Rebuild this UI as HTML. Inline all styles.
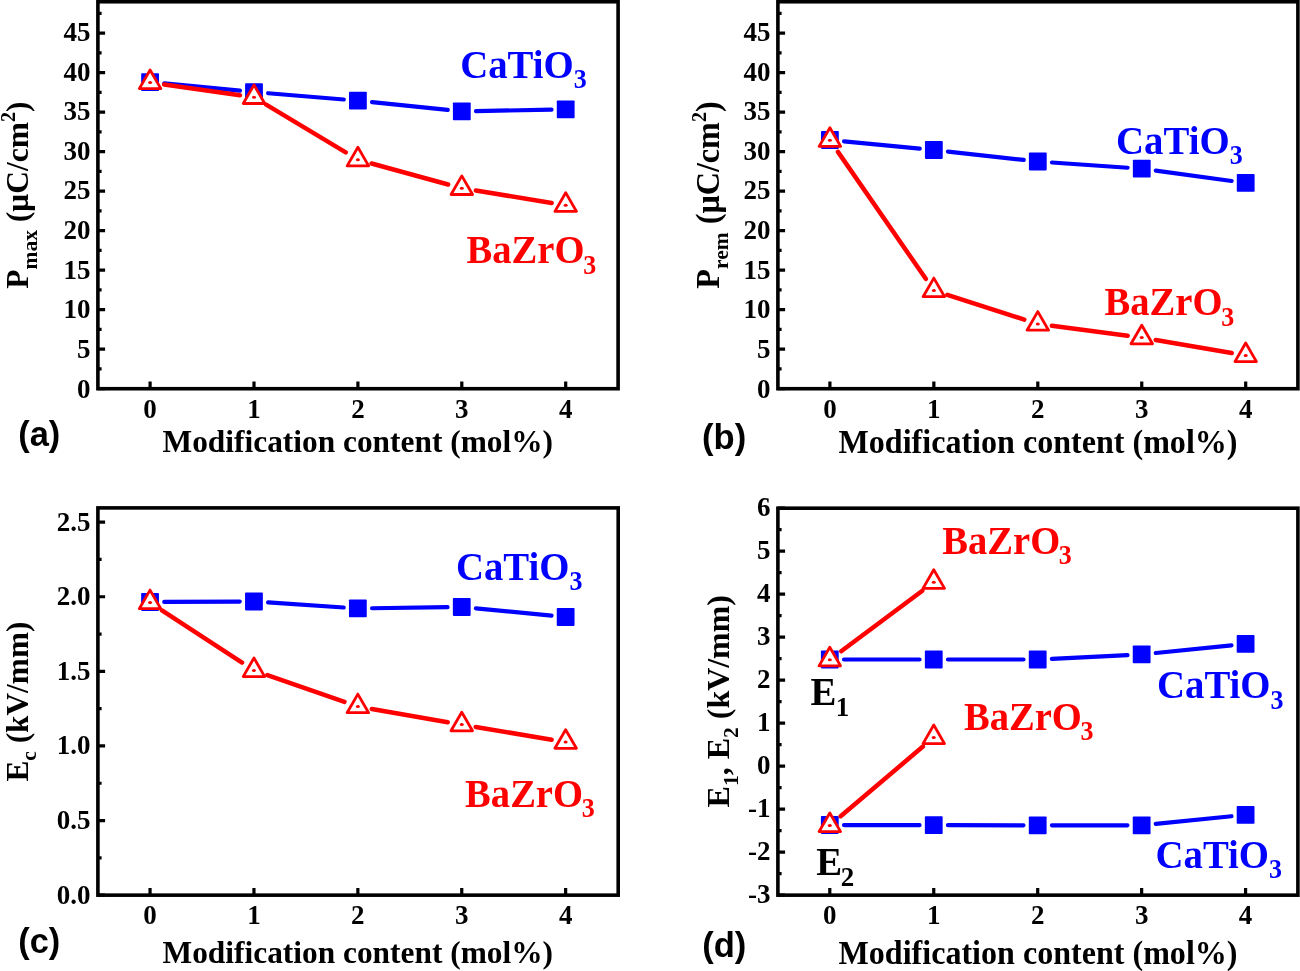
<!DOCTYPE html><html><head><meta charset="utf-8"><title>Figure</title><style>html,body{margin:0;padding:0;background:#fff;width:1300px;height:971px;overflow:hidden}svg{display:block}</style></head><body>
<svg width="1300" height="971" viewBox="0 0 1300 971">
<rect width="1300" height="971" fill="#fff"/>
<rect x="97.9" y="1.75" width="520.2" height="386.97" fill="none" stroke="#000" stroke-width="3.6"/>
<path d="M97.9 388.72H105.1M97.9 349.22H105.1M97.9 309.72H105.1M97.9 270.22H105.1M97.9 230.72H105.1M97.9 191.22H105.1M97.9 151.72H105.1M97.9 112.22H105.1M97.9 72.72H105.1M97.9 33.22H105.1M97.9 368.97H101.6M97.9 329.47H101.6M97.9 289.97H101.6M97.9 250.47H101.6M97.9 210.97H101.6M97.9 171.47H101.6M97.9 131.97H101.6M97.9 92.47H101.6M97.9 52.97H101.6M97.9 13.47H101.6" stroke="#000" stroke-width="3.2" fill="none"/>
<path d="M150.1 388.72V381.52M254 388.72V381.52M357.9 388.72V381.52M461.8 388.72V381.52M565.7 388.72V381.52" stroke="#000" stroke-width="3.2" fill="none"/>
<text transform="translate(90.4 397.52) scale(1 1.02)" font-family="'Liberation Serif', 'Times New Roman', serif" font-weight="bold" font-size="27" text-anchor="end" fill="#000">0</text>
<text transform="translate(90.4 357.9) scale(1 1.02)" font-family="'Liberation Serif', 'Times New Roman', serif" font-weight="bold" font-size="27" text-anchor="end" fill="#000">5</text>
<text transform="translate(90.4 318.28) scale(1 1.02)" font-family="'Liberation Serif', 'Times New Roman', serif" font-weight="bold" font-size="27" text-anchor="end" fill="#000">10</text>
<text transform="translate(90.4 278.65) scale(1 1.02)" font-family="'Liberation Serif', 'Times New Roman', serif" font-weight="bold" font-size="27" text-anchor="end" fill="#000">15</text>
<text transform="translate(90.4 239.03) scale(1 1.02)" font-family="'Liberation Serif', 'Times New Roman', serif" font-weight="bold" font-size="27" text-anchor="end" fill="#000">20</text>
<text transform="translate(90.4 199.41) scale(1 1.02)" font-family="'Liberation Serif', 'Times New Roman', serif" font-weight="bold" font-size="27" text-anchor="end" fill="#000">25</text>
<text transform="translate(90.4 159.79) scale(1 1.02)" font-family="'Liberation Serif', 'Times New Roman', serif" font-weight="bold" font-size="27" text-anchor="end" fill="#000">30</text>
<text transform="translate(90.4 120.17) scale(1 1.02)" font-family="'Liberation Serif', 'Times New Roman', serif" font-weight="bold" font-size="27" text-anchor="end" fill="#000">35</text>
<text transform="translate(90.4 80.54) scale(1 1.02)" font-family="'Liberation Serif', 'Times New Roman', serif" font-weight="bold" font-size="27" text-anchor="end" fill="#000">40</text>
<text transform="translate(90.4 40.92) scale(1 1.02)" font-family="'Liberation Serif', 'Times New Roman', serif" font-weight="bold" font-size="27" text-anchor="end" fill="#000">45</text>
<text transform="translate(150.1 417.82) scale(1 1.02)" font-family="'Liberation Serif', 'Times New Roman', serif" font-weight="bold" font-size="27" text-anchor="middle" fill="#000">0</text>
<text transform="translate(254 417.82) scale(1 1.02)" font-family="'Liberation Serif', 'Times New Roman', serif" font-weight="bold" font-size="27" text-anchor="middle" fill="#000">1</text>
<text transform="translate(357.9 417.82) scale(1 1.02)" font-family="'Liberation Serif', 'Times New Roman', serif" font-weight="bold" font-size="27" text-anchor="middle" fill="#000">2</text>
<text transform="translate(461.8 417.82) scale(1 1.02)" font-family="'Liberation Serif', 'Times New Roman', serif" font-weight="bold" font-size="27" text-anchor="middle" fill="#000">3</text>
<text transform="translate(565.7 417.82) scale(1 1.02)" font-family="'Liberation Serif', 'Times New Roman', serif" font-weight="bold" font-size="27" text-anchor="middle" fill="#000">4</text>
<path d="M164.24 83.45L239.86 90.7M268.15 93.22L343.75 99.48M372.02 102.11L447.68 109.94M476 111.13L551.5 109.67" stroke="#0000ff" stroke-width="4.2" stroke-linecap="round" fill="none"/>
<rect x="141.2" y="73.2" width="17.8" height="17.8" rx="0.8" fill="#0000ff"/>
<rect x="245.1" y="83.15" width="17.8" height="17.8" rx="0.8" fill="#0000ff"/>
<rect x="349" y="91.75" width="17.8" height="17.8" rx="0.8" fill="#0000ff"/>
<rect x="452.9" y="102.5" width="17.8" height="17.8" rx="0.8" fill="#0000ff"/>
<rect x="556.8" y="100.5" width="17.8" height="17.8" rx="0.8" fill="#0000ff"/>
<path d="M164.16 84.42L239.94 95.28M266.17 104.61L345.73 152.39M371.59 163.47L448.11 184.53M475.82 190.58L551.68 202.92" stroke="#ff0000" stroke-width="4.5" stroke-linecap="round" fill="none"/>
<path d="M150.1 69.99L160.85 88.61L139.35 88.61Z" fill="#fff" stroke="#ff0000" stroke-width="2.8" stroke-linejoin="round"/>
<ellipse cx="150.1" cy="82.4" rx="2" ry="1.5" fill="#ff0000"/>
<path d="M254 84.89L264.75 103.51L243.25 103.51Z" fill="#fff" stroke="#ff0000" stroke-width="2.8" stroke-linejoin="round"/>
<ellipse cx="254" cy="97.3" rx="2" ry="1.5" fill="#ff0000"/>
<path d="M357.9 147.29L368.65 165.91L347.15 165.91Z" fill="#fff" stroke="#ff0000" stroke-width="2.8" stroke-linejoin="round"/>
<ellipse cx="357.9" cy="159.7" rx="2" ry="1.5" fill="#ff0000"/>
<path d="M461.8 175.89L472.55 194.51L451.05 194.51Z" fill="#fff" stroke="#ff0000" stroke-width="2.8" stroke-linejoin="round"/>
<ellipse cx="461.8" cy="188.3" rx="2" ry="1.5" fill="#ff0000"/>
<path d="M565.7 192.79L576.45 211.41L554.95 211.41Z" fill="#fff" stroke="#ff0000" stroke-width="2.8" stroke-linejoin="round"/>
<ellipse cx="565.7" cy="205.2" rx="2" ry="1.5" fill="#ff0000"/>
<text transform="translate(460.21 77.5) scale(1 1.02)" font-family="'Liberation Serif', 'Times New Roman', serif" font-weight="bold" font-size="38.8" text-anchor="start" fill="#0000ff">CaTiO<tspan font-size="26" dx="0" dy="10.2">3</tspan></text>
<text transform="translate(466.56 263.3) scale(1 1.02)" font-family="'Liberation Serif', 'Times New Roman', serif" font-weight="bold" font-size="38.6" text-anchor="start" fill="#ff0000">BaZrO<tspan font-size="26" dx="-1.3" dy="10.2">3</tspan></text>
<text transform="translate(357.8 451.7) scale(1 1.02)" font-family="'Liberation Serif', 'Times New Roman', serif" font-weight="bold" font-size="31.4" text-anchor="middle" fill="#000">Modification content (mol%)</text>
<text transform="translate(28 195.1) rotate(-90) scale(1 1.02)" font-family="'Liberation Serif', 'Times New Roman', serif" font-weight="bold" font-size="31.55" text-anchor="middle" fill="#000">P<tspan font-size="21.5" dy="8.5">max</tspan><tspan dy="-8.5"> (μC/cm</tspan><tspan font-size="20" dy="-13.2">2</tspan><tspan dy="13.2">)</tspan></text>
<text transform="translate(18.29 445.7)" font-family="'Liberation Sans', Arial, sans-serif" font-weight="bold" font-size="34.4" text-anchor="start" fill="#000">(a)</text>
<rect x="777.9" y="1.75" width="520" height="386.97" fill="none" stroke="#000" stroke-width="3.6"/>
<path d="M777.9 388.72H785.1M777.9 349.22H785.1M777.9 309.72H785.1M777.9 270.22H785.1M777.9 230.72H785.1M777.9 191.22H785.1M777.9 151.72H785.1M777.9 112.22H785.1M777.9 72.72H785.1M777.9 33.22H785.1M777.9 368.97H781.6M777.9 329.47H781.6M777.9 289.97H781.6M777.9 250.47H781.6M777.9 210.97H781.6M777.9 171.47H781.6M777.9 131.97H781.6M777.9 92.47H781.6M777.9 52.97H781.6M777.9 13.47H781.6" stroke="#000" stroke-width="3.2" fill="none"/>
<path d="M829.9 388.72V381.52M933.85 388.72V381.52M1037.8 388.72V381.52M1141.75 388.72V381.52M1245.7 388.72V381.52" stroke="#000" stroke-width="3.2" fill="none"/>
<text transform="translate(770.4 397.52) scale(1 1.02)" font-family="'Liberation Serif', 'Times New Roman', serif" font-weight="bold" font-size="27" text-anchor="end" fill="#000">0</text>
<text transform="translate(770.4 357.9) scale(1 1.02)" font-family="'Liberation Serif', 'Times New Roman', serif" font-weight="bold" font-size="27" text-anchor="end" fill="#000">5</text>
<text transform="translate(770.4 318.28) scale(1 1.02)" font-family="'Liberation Serif', 'Times New Roman', serif" font-weight="bold" font-size="27" text-anchor="end" fill="#000">10</text>
<text transform="translate(770.4 278.65) scale(1 1.02)" font-family="'Liberation Serif', 'Times New Roman', serif" font-weight="bold" font-size="27" text-anchor="end" fill="#000">15</text>
<text transform="translate(770.4 239.03) scale(1 1.02)" font-family="'Liberation Serif', 'Times New Roman', serif" font-weight="bold" font-size="27" text-anchor="end" fill="#000">20</text>
<text transform="translate(770.4 199.41) scale(1 1.02)" font-family="'Liberation Serif', 'Times New Roman', serif" font-weight="bold" font-size="27" text-anchor="end" fill="#000">25</text>
<text transform="translate(770.4 159.79) scale(1 1.02)" font-family="'Liberation Serif', 'Times New Roman', serif" font-weight="bold" font-size="27" text-anchor="end" fill="#000">30</text>
<text transform="translate(770.4 120.17) scale(1 1.02)" font-family="'Liberation Serif', 'Times New Roman', serif" font-weight="bold" font-size="27" text-anchor="end" fill="#000">35</text>
<text transform="translate(770.4 80.54) scale(1 1.02)" font-family="'Liberation Serif', 'Times New Roman', serif" font-weight="bold" font-size="27" text-anchor="end" fill="#000">40</text>
<text transform="translate(770.4 40.92) scale(1 1.02)" font-family="'Liberation Serif', 'Times New Roman', serif" font-weight="bold" font-size="27" text-anchor="end" fill="#000">45</text>
<text transform="translate(829.9 417.82) scale(1 1.02)" font-family="'Liberation Serif', 'Times New Roman', serif" font-weight="bold" font-size="27" text-anchor="middle" fill="#000">0</text>
<text transform="translate(933.85 417.82) scale(1 1.02)" font-family="'Liberation Serif', 'Times New Roman', serif" font-weight="bold" font-size="27" text-anchor="middle" fill="#000">1</text>
<text transform="translate(1037.8 417.82) scale(1 1.02)" font-family="'Liberation Serif', 'Times New Roman', serif" font-weight="bold" font-size="27" text-anchor="middle" fill="#000">2</text>
<text transform="translate(1141.75 417.82) scale(1 1.02)" font-family="'Liberation Serif', 'Times New Roman', serif" font-weight="bold" font-size="27" text-anchor="middle" fill="#000">3</text>
<text transform="translate(1245.7 417.82) scale(1 1.02)" font-family="'Liberation Serif', 'Times New Roman', serif" font-weight="bold" font-size="27" text-anchor="middle" fill="#000">4</text>
<path d="M844.03 141.36L919.72 148.64M947.96 151.56L1023.69 159.94M1051.97 162.48L1127.58 167.72M1155.82 170.62L1231.63 180.98" stroke="#0000ff" stroke-width="4.2" stroke-linecap="round" fill="none"/>
<rect x="821" y="131.1" width="17.8" height="17.8" rx="0.8" fill="#0000ff"/>
<rect x="924.95" y="141.1" width="17.8" height="17.8" rx="0.8" fill="#0000ff"/>
<rect x="1028.9" y="152.6" width="17.8" height="17.8" rx="0.8" fill="#0000ff"/>
<rect x="1132.85" y="159.8" width="17.8" height="17.8" rx="0.8" fill="#0000ff"/>
<rect x="1236.8" y="174" width="17.8" height="17.8" rx="0.8" fill="#0000ff"/>
<path d="M837.98 151.88L925.77 278.82M947.37 294.86L1024.28 319.64M1051.88 325.84L1127.67 335.76M1155.75 340L1231.7 353" stroke="#ff0000" stroke-width="4.5" stroke-linecap="round" fill="none"/>
<path d="M829.9 127.79L840.65 146.41L819.15 146.41Z" fill="#fff" stroke="#ff0000" stroke-width="2.8" stroke-linejoin="round"/>
<ellipse cx="829.9" cy="140.2" rx="2" ry="1.5" fill="#ff0000"/>
<path d="M933.85 278.09L944.6 296.71L923.1 296.71Z" fill="#fff" stroke="#ff0000" stroke-width="2.8" stroke-linejoin="round"/>
<ellipse cx="933.85" cy="290.5" rx="2" ry="1.5" fill="#ff0000"/>
<path d="M1037.8 311.59L1048.55 330.21L1027.05 330.21Z" fill="#fff" stroke="#ff0000" stroke-width="2.8" stroke-linejoin="round"/>
<ellipse cx="1037.8" cy="324" rx="2" ry="1.5" fill="#ff0000"/>
<path d="M1141.75 325.19L1152.5 343.81L1131 343.81Z" fill="#fff" stroke="#ff0000" stroke-width="2.8" stroke-linejoin="round"/>
<ellipse cx="1141.75" cy="337.6" rx="2" ry="1.5" fill="#ff0000"/>
<path d="M1245.7 342.99L1256.45 361.61L1234.95 361.61Z" fill="#fff" stroke="#ff0000" stroke-width="2.8" stroke-linejoin="round"/>
<ellipse cx="1245.7" cy="355.4" rx="2" ry="1.5" fill="#ff0000"/>
<text transform="translate(1116.11 153.5) scale(1 1.02)" font-family="'Liberation Serif', 'Times New Roman', serif" font-weight="bold" font-size="38.8" text-anchor="start" fill="#0000ff">CaTiO<tspan font-size="26" dx="0" dy="10.2">3</tspan></text>
<text transform="translate(1104.56 315.4) scale(1 1.02)" font-family="'Liberation Serif', 'Times New Roman', serif" font-weight="bold" font-size="38.6" text-anchor="start" fill="#ff0000">BaZrO<tspan font-size="26" dx="-1.3" dy="10.2">3</tspan></text>
<text transform="translate(1038.05 452.9) scale(1 1.02)" font-family="'Liberation Serif', 'Times New Roman', serif" font-weight="bold" font-size="32.08" text-anchor="middle" fill="#000">Modification content (mol%)</text>
<text transform="translate(719.2 195) rotate(-90) scale(1 1.02)" font-family="'Liberation Serif', 'Times New Roman', serif" font-weight="bold" font-size="32.2" text-anchor="middle" fill="#000">P<tspan font-size="21.5" dy="8.5">rem</tspan><tspan dy="-8.5"> (μC/cm</tspan><tspan font-size="20" dy="-13.2">2</tspan><tspan dy="13.2">)</tspan></text>
<text transform="translate(702.08 449)" font-family="'Liberation Sans', Arial, sans-serif" font-weight="bold" font-size="34.6" text-anchor="start" fill="#000">(b)</text>
<rect x="97.9" y="507.9" width="520.3" height="387.25" fill="none" stroke="#000" stroke-width="3.6"/>
<path d="M97.9 895.15H105.1M97.9 820.55H105.1M97.9 745.95H105.1M97.9 671.35H105.1M97.9 596.75H105.1M97.9 522.15H105.1M97.9 857.85H101.6M97.9 783.25H101.6M97.9 708.65H101.6M97.9 634.05H101.6M97.9 559.45H101.6" stroke="#000" stroke-width="3.2" fill="none"/>
<path d="M150.05 895.15V887.95M253.95 895.15V887.95M357.85 895.15V887.95M461.75 895.15V887.95M565.65 895.15V887.95" stroke="#000" stroke-width="3.2" fill="none"/>
<text transform="translate(90.4 903.55) scale(1 1.02)" font-family="'Liberation Serif', 'Times New Roman', serif" font-weight="bold" font-size="27" text-anchor="end" fill="#000">0.0</text>
<text transform="translate(90.4 828.95) scale(1 1.02)" font-family="'Liberation Serif', 'Times New Roman', serif" font-weight="bold" font-size="27" text-anchor="end" fill="#000">0.5</text>
<text transform="translate(90.4 754.35) scale(1 1.02)" font-family="'Liberation Serif', 'Times New Roman', serif" font-weight="bold" font-size="27" text-anchor="end" fill="#000">1.0</text>
<text transform="translate(90.4 679.75) scale(1 1.02)" font-family="'Liberation Serif', 'Times New Roman', serif" font-weight="bold" font-size="27" text-anchor="end" fill="#000">1.5</text>
<text transform="translate(90.4 605.15) scale(1 1.02)" font-family="'Liberation Serif', 'Times New Roman', serif" font-weight="bold" font-size="27" text-anchor="end" fill="#000">2.0</text>
<text transform="translate(90.4 530.55) scale(1 1.02)" font-family="'Liberation Serif', 'Times New Roman', serif" font-weight="bold" font-size="27" text-anchor="end" fill="#000">2.5</text>
<text transform="translate(150.05 924.25) scale(1 1.02)" font-family="'Liberation Serif', 'Times New Roman', serif" font-weight="bold" font-size="27" text-anchor="middle" fill="#000">0</text>
<text transform="translate(253.95 924.25) scale(1 1.02)" font-family="'Liberation Serif', 'Times New Roman', serif" font-weight="bold" font-size="27" text-anchor="middle" fill="#000">1</text>
<text transform="translate(357.85 924.25) scale(1 1.02)" font-family="'Liberation Serif', 'Times New Roman', serif" font-weight="bold" font-size="27" text-anchor="middle" fill="#000">2</text>
<text transform="translate(461.75 924.25) scale(1 1.02)" font-family="'Liberation Serif', 'Times New Roman', serif" font-weight="bold" font-size="27" text-anchor="middle" fill="#000">3</text>
<text transform="translate(565.65 924.25) scale(1 1.02)" font-family="'Liberation Serif', 'Times New Roman', serif" font-weight="bold" font-size="27" text-anchor="middle" fill="#000">4</text>
<path d="M164.25 601.93L239.75 601.57M268.12 602.45L343.68 607.5M372.05 608.25L447.55 607.2M475.88 608.36L551.52 615.64" stroke="#0000ff" stroke-width="4.2" stroke-linecap="round" fill="none"/>
<rect x="141.15" y="593.1" width="17.8" height="17.8" rx="0.8" fill="#0000ff"/>
<rect x="245.05" y="592.6" width="17.8" height="17.8" rx="0.8" fill="#0000ff"/>
<rect x="348.95" y="599.55" width="17.8" height="17.8" rx="0.8" fill="#0000ff"/>
<rect x="452.85" y="598.1" width="17.8" height="17.8" rx="0.8" fill="#0000ff"/>
<rect x="556.75" y="608.1" width="17.8" height="17.8" rx="0.8" fill="#0000ff"/>
<path d="M161.94 610.27L242.06 662.63M267.36 675.06L344.44 701.84M371.84 708.94L447.76 722.16M475.75 726.96L551.65 739.74" stroke="#ff0000" stroke-width="4.5" stroke-linecap="round" fill="none"/>
<path d="M150.05 590.09L160.8 608.71L139.3 608.71Z" fill="#fff" stroke="#ff0000" stroke-width="2.8" stroke-linejoin="round"/>
<ellipse cx="150.05" cy="602.5" rx="2" ry="1.5" fill="#ff0000"/>
<path d="M253.95 657.99L264.7 676.61L243.2 676.61Z" fill="#fff" stroke="#ff0000" stroke-width="2.8" stroke-linejoin="round"/>
<ellipse cx="253.95" cy="670.4" rx="2" ry="1.5" fill="#ff0000"/>
<path d="M357.85 694.09L368.6 712.71L347.1 712.71Z" fill="#fff" stroke="#ff0000" stroke-width="2.8" stroke-linejoin="round"/>
<ellipse cx="357.85" cy="706.5" rx="2" ry="1.5" fill="#ff0000"/>
<path d="M461.75 712.19L472.5 730.81L451 730.81Z" fill="#fff" stroke="#ff0000" stroke-width="2.8" stroke-linejoin="round"/>
<ellipse cx="461.75" cy="724.6" rx="2" ry="1.5" fill="#ff0000"/>
<path d="M565.65 729.69L576.4 748.31L554.9 748.31Z" fill="#fff" stroke="#ff0000" stroke-width="2.8" stroke-linejoin="round"/>
<ellipse cx="565.65" cy="742.1" rx="2" ry="1.5" fill="#ff0000"/>
<text transform="translate(455.91 579.6) scale(1 1.02)" font-family="'Liberation Serif', 'Times New Roman', serif" font-weight="bold" font-size="38.8" text-anchor="start" fill="#0000ff">CaTiO<tspan font-size="26" dx="0" dy="10.2">3</tspan></text>
<text transform="translate(465.11 806.8) scale(1 1.02)" font-family="'Liberation Serif', 'Times New Roman', serif" font-weight="bold" font-size="38.6" text-anchor="start" fill="#ff0000">BaZrO<tspan font-size="26" dx="-1.3" dy="10.2">3</tspan></text>
<text transform="translate(357.8 963.3) scale(1 1.02)" font-family="'Liberation Serif', 'Times New Roman', serif" font-weight="bold" font-size="31.4" text-anchor="middle" fill="#000">Modification content (mol%)</text>
<text transform="translate(27.8 701.6) rotate(-90) scale(1 1.02)" font-family="'Liberation Serif', 'Times New Roman', serif" font-weight="bold" font-size="31.3" text-anchor="middle" fill="#000">E<tspan font-size="21.5" dy="8.5">c</tspan><tspan dy="-8.5"> (kV/mm)</tspan></text>
<text transform="translate(18.29 952.8)" font-family="'Liberation Sans', Arial, sans-serif" font-weight="bold" font-size="34.4" text-anchor="start" fill="#000">(c)</text>
<rect x="777.9" y="508.2" width="520" height="386.95" fill="none" stroke="#000" stroke-width="3.6"/>
<path d="M777.9 895.15H785.1M777.9 852.15H785.1M777.9 809.15H785.1M777.9 766.15H785.1M777.9 723.15H785.1M777.9 680.15H785.1M777.9 637.15H785.1M777.9 594.15H785.1M777.9 551.15H785.1M777.9 508.15H785.1M777.9 873.65H781.6M777.9 830.65H781.6M777.9 787.65H781.6M777.9 744.65H781.6M777.9 701.65H781.6M777.9 658.65H781.6M777.9 615.65H781.6M777.9 572.65H781.6M777.9 529.65H781.6" stroke="#000" stroke-width="3.2" fill="none"/>
<path d="M829.8 895.15V887.95M933.75 895.15V887.95M1037.7 895.15V887.95M1141.65 895.15V887.95M1245.6 895.15V887.95" stroke="#000" stroke-width="3.2" fill="none"/>
<text transform="translate(770.4 903.45) scale(1 1.02)" font-family="'Liberation Serif', 'Times New Roman', serif" font-weight="bold" font-size="27" text-anchor="end" fill="#000">-3</text>
<text transform="translate(770.4 860.45) scale(1 1.02)" font-family="'Liberation Serif', 'Times New Roman', serif" font-weight="bold" font-size="27" text-anchor="end" fill="#000">-2</text>
<text transform="translate(770.4 817.45) scale(1 1.02)" font-family="'Liberation Serif', 'Times New Roman', serif" font-weight="bold" font-size="27" text-anchor="end" fill="#000">-1</text>
<text transform="translate(770.4 774.45) scale(1 1.02)" font-family="'Liberation Serif', 'Times New Roman', serif" font-weight="bold" font-size="27" text-anchor="end" fill="#000">0</text>
<text transform="translate(770.4 731.45) scale(1 1.02)" font-family="'Liberation Serif', 'Times New Roman', serif" font-weight="bold" font-size="27" text-anchor="end" fill="#000">1</text>
<text transform="translate(770.4 688.45) scale(1 1.02)" font-family="'Liberation Serif', 'Times New Roman', serif" font-weight="bold" font-size="27" text-anchor="end" fill="#000">2</text>
<text transform="translate(770.4 645.45) scale(1 1.02)" font-family="'Liberation Serif', 'Times New Roman', serif" font-weight="bold" font-size="27" text-anchor="end" fill="#000">3</text>
<text transform="translate(770.4 602.45) scale(1 1.02)" font-family="'Liberation Serif', 'Times New Roman', serif" font-weight="bold" font-size="27" text-anchor="end" fill="#000">4</text>
<text transform="translate(770.4 559.45) scale(1 1.02)" font-family="'Liberation Serif', 'Times New Roman', serif" font-weight="bold" font-size="27" text-anchor="end" fill="#000">5</text>
<text transform="translate(770.4 516.45) scale(1 1.02)" font-family="'Liberation Serif', 'Times New Roman', serif" font-weight="bold" font-size="27" text-anchor="end" fill="#000">6</text>
<text transform="translate(829.8 924.25) scale(1 1.02)" font-family="'Liberation Serif', 'Times New Roman', serif" font-weight="bold" font-size="27" text-anchor="middle" fill="#000">0</text>
<text transform="translate(933.75 924.25) scale(1 1.02)" font-family="'Liberation Serif', 'Times New Roman', serif" font-weight="bold" font-size="27" text-anchor="middle" fill="#000">1</text>
<text transform="translate(1037.7 924.25) scale(1 1.02)" font-family="'Liberation Serif', 'Times New Roman', serif" font-weight="bold" font-size="27" text-anchor="middle" fill="#000">2</text>
<text transform="translate(1141.65 924.25) scale(1 1.02)" font-family="'Liberation Serif', 'Times New Roman', serif" font-weight="bold" font-size="27" text-anchor="middle" fill="#000">3</text>
<text transform="translate(1245.6 924.25) scale(1 1.02)" font-family="'Liberation Serif', 'Times New Roman', serif" font-weight="bold" font-size="27" text-anchor="middle" fill="#000">4</text>
<path d="M844 659.5L919.55 659.5M947.95 659.5L1023.5 659.5M1051.88 658.8L1127.47 655.1M1155.78 652.97L1231.47 645.33" stroke="#0000ff" stroke-width="4.2" stroke-linecap="round" fill="none"/>
<rect x="820.9" y="650.6" width="17.8" height="17.8" rx="0.8" fill="#0000ff"/>
<rect x="924.85" y="650.6" width="17.8" height="17.8" rx="0.8" fill="#0000ff"/>
<rect x="1028.8" y="650.6" width="17.8" height="17.8" rx="0.8" fill="#0000ff"/>
<rect x="1132.75" y="645.5" width="17.8" height="17.8" rx="0.8" fill="#0000ff"/>
<rect x="1236.7" y="635" width="17.8" height="17.8" rx="0.8" fill="#0000ff"/>
<path d="M844 825.03L919.55 825.17M947.95 825.21L1023.5 825.29M1051.9 825.3L1127.45 825.3M1155.78 823.87L1231.47 816.23" stroke="#0000ff" stroke-width="4.2" stroke-linecap="round" fill="none"/>
<rect x="820.9" y="816.1" width="17.8" height="17.8" rx="0.8" fill="#0000ff"/>
<rect x="924.85" y="816.3" width="17.8" height="17.8" rx="0.8" fill="#0000ff"/>
<rect x="1028.8" y="816.4" width="17.8" height="17.8" rx="0.8" fill="#0000ff"/>
<rect x="1132.75" y="816.4" width="17.8" height="17.8" rx="0.8" fill="#0000ff"/>
<rect x="1236.7" y="805.9" width="17.8" height="17.8" rx="0.8" fill="#0000ff"/>
<path d="M841.18 651.21L922.37 590.69" stroke="#ff0000" stroke-width="4.5" stroke-linecap="round" fill="none"/>
<path d="M829.8 647.29L840.55 665.91L819.05 665.91Z" fill="#fff" stroke="#ff0000" stroke-width="2.8" stroke-linejoin="round"/>
<ellipse cx="829.8" cy="659.7" rx="2" ry="1.5" fill="#ff0000"/>
<path d="M933.75 569.79L944.5 588.41L923 588.41Z" fill="#fff" stroke="#ff0000" stroke-width="2.8" stroke-linejoin="round"/>
<ellipse cx="933.75" cy="582.2" rx="2" ry="1.5" fill="#ff0000"/>
<path d="M840.64 816.23L922.91 746.57" stroke="#ff0000" stroke-width="4.5" stroke-linecap="round" fill="none"/>
<path d="M829.8 812.99L840.55 831.61L819.05 831.61Z" fill="#fff" stroke="#ff0000" stroke-width="2.8" stroke-linejoin="round"/>
<ellipse cx="829.8" cy="825.4" rx="2" ry="1.5" fill="#ff0000"/>
<path d="M933.75 724.99L944.5 743.61L923 743.61Z" fill="#fff" stroke="#ff0000" stroke-width="2.8" stroke-linejoin="round"/>
<ellipse cx="933.75" cy="737.4" rx="2" ry="1.5" fill="#ff0000"/>
<text transform="translate(942.26 553.8) scale(1 1.02)" font-family="'Liberation Serif', 'Times New Roman', serif" font-weight="bold" font-size="38.6" text-anchor="start" fill="#ff0000">BaZrO<tspan font-size="26" dx="-1.3" dy="10.2">3</tspan></text>
<text transform="translate(963.96 730) scale(1 1.02)" font-family="'Liberation Serif', 'Times New Roman', serif" font-weight="bold" font-size="38.6" text-anchor="start" fill="#ff0000">BaZrO<tspan font-size="26" dx="-1.3" dy="10.2">3</tspan></text>
<text transform="translate(1157.01 698.4) scale(1 1.02)" font-family="'Liberation Serif', 'Times New Roman', serif" font-weight="bold" font-size="38.8" text-anchor="start" fill="#0000ff">CaTiO<tspan font-size="26" dx="0" dy="10.2">3</tspan></text>
<text transform="translate(1155.51 867.9) scale(1 1.02)" font-family="'Liberation Serif', 'Times New Roman', serif" font-weight="bold" font-size="38.8" text-anchor="start" fill="#0000ff">CaTiO<tspan font-size="26" dx="0" dy="10.2">3</tspan></text>
<text transform="translate(810.44 704.8) scale(1 1.02)" font-family="'Liberation Serif', 'Times New Roman', serif" font-weight="bold" font-size="38.8" text-anchor="start" fill="#000">E<tspan font-size="27" dx="-0.6" dy="10.5">1</tspan></text>
<text transform="translate(816.34 875.4) scale(1 1.02)" font-family="'Liberation Serif', 'Times New Roman', serif" font-weight="bold" font-size="38.8" text-anchor="start" fill="#000">E<tspan font-size="27" dx="-1.4" dy="10.2">2</tspan></text>
<text transform="translate(1038.05 964.4) scale(1 1.02)" font-family="'Liberation Serif', 'Times New Roman', serif" font-weight="bold" font-size="32.08" text-anchor="middle" fill="#000">Modification content (mol%)</text>
<text transform="translate(729.3 701.2) rotate(-90) scale(1 1.02)" font-family="'Liberation Serif', 'Times New Roman', serif" font-weight="bold" font-size="31.97" text-anchor="middle" fill="#000">E<tspan font-size="21.5" dy="8.5">1</tspan><tspan dy="-8.5">, E</tspan><tspan font-size="21.5" dy="8.5">2</tspan><tspan dy="-8.5"> (kV/mm)</tspan></text>
<text transform="translate(702.18 956.5)" font-family="'Liberation Sans', Arial, sans-serif" font-weight="bold" font-size="34.6" text-anchor="start" fill="#000">(d)</text>
</svg></body></html>
